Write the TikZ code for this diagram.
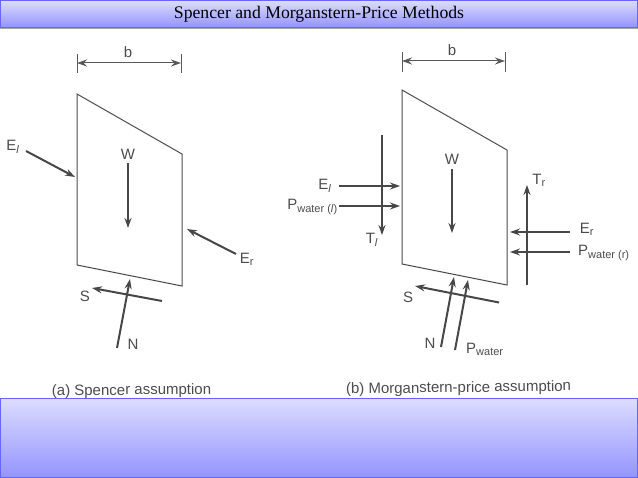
\documentclass[tikz,border=0pt]{standalone}
\usepackage{fontspec}
\setmainfont{Liberation Sans}
\newfontfamily\titlefont{Liberation Serif}
\usetikzlibrary{arrows.meta}
\tikzset{
  slice/.style={draw=black!70, line width=1pt},
  dimline/.style={draw=black!65, line width=1pt},
  force/.style={draw=black!72, line width=2pt},
  lbl/.style={text=black!70, font=\fontsize{15}{15}\selectfont, inner sep=0pt},
  panel/.style={draw=blue!60, line width=0.7pt, top color=panelTop, bottom color=panelBot},
}
\definecolor{panelTop}{HTML}{DCDCFF}
\definecolor{panelBot}{HTML}{9494FF}
\newcommand{\sbl}[1]{\textsubscript{\fontsize{11}{11}\selectfont #1}}
\begin{document}
\begin{tikzpicture}[x=1pt, y=-1pt, >={Stealth[length=10pt,width=7pt]}]
    \useasboundingbox (0, 0) rectangle (638, 478);
    % title bar and bottom panel
    \fill[black!35] (0, 27) rectangle (638, 29.5);
    \path[panel] (0.5, 0.5) rectangle (637.5, 27);
    \node[inner sep=0pt, font=\titlefont\fontsize{17.7}{17.7}\selectfont] (title) at (319, 14) {Spencer and Morganstern-Price Methods};
    \path[panel] (0.5, 398.5) rectangle (637.5, 477.5);

    % (a) Spencer
    \draw[slice] (77, 94) -- (182, 154) -- (182, 286) -- (77, 265) -- cycle;
    \draw[dimline] (77, 54) -- (77, 73);
    \draw[dimline] (181, 54) -- (181, 73);
    \draw[dimline, <->] (77, 63) -- (181, 63);
    \node[lbl] (bA) at (128, 52) {b};
    \node[lbl] (wA) at (128, 154) {W};
    \draw[force, ->] (128, 163) -- (128, 228);
    \node[lbl] (elA) at (13, 147) {E\sbl{\textit{l}}};
    \draw[force, ->] (26, 151) -- (75, 177);
    \node[lbl] (erA) at (247, 259) {E\sbl{r}};
    \draw[force, ->] (236, 254) -- (187, 229);
    \node[lbl] (sA) at (85, 296) {S};
    \draw[force, ->] (162, 301) -- (92, 288);
    \node[lbl] (nA) at (133, 344) {N};
    \draw[force, ->] (117, 348) -- (130, 279);
    \node[lbl, rotate=0.5] (capA) at (131.5, 391) {(a) Spencer assumption};

    % (b) Morganstern-price
    \draw[slice] (402, 90) -- (507, 150) -- (507, 285) -- (402, 264) -- cycle;
    \draw[dimline] (402, 52) -- (402, 72);
    \draw[dimline] (505, 52) -- (505, 72);
    \draw[dimline, <->] (402, 61) -- (505, 61);
    \node[lbl] (bB) at (452, 50) {b};
    \node[lbl] (wB) at (452, 159) {W};
    \draw[force, ->] (452, 169) -- (452, 233);
    \node[lbl] (elB) at (325, 186) {E\sbl{\textit{l}}};
    \draw[force, ->] (339, 186) -- (400, 186);
    \node[lbl, anchor=east] (plB) at (338, 207) {P\sbl{water (\textit{l})}};
    \draw[force, ->] (339, 206) -- (400, 206);
    \draw[force, ->] (382, 135) -- (382, 235);
    \node[lbl] (tlB) at (372, 240) {T\sbl{\textit{l}}};
    \draw[force, ->] (527, 285) -- (527, 185);
    \node[lbl] (trB) at (539, 180) {T\sbl{r}};
    \node[lbl] (erB) at (587, 229) {E\sbl{r}};
    \draw[force, ->] (570, 232) -- (510, 232);
    \node[lbl, anchor=west] (prB) at (578, 253) {P\sbl{water (r)}};
    \draw[force, ->] (570, 252) -- (510, 252);
    \node[lbl] (sB) at (408, 297) {S};
    \draw[force, ->] (499, 302.5) -- (415, 286);
    \node[lbl] (nB) at (430, 343) {N};
    \draw[force, ->] (441, 347) -- (454, 277);
    \node[lbl, anchor=west] (pwB) at (466, 349) {P\sbl{water}};
    \draw[force, ->] (455, 350) -- (468, 280);
    \node[lbl, rotate=0.8] (capB) at (458.5, 388.5) {(b) Morganstern-price assumption};
  \end{tikzpicture}
\end{document}
